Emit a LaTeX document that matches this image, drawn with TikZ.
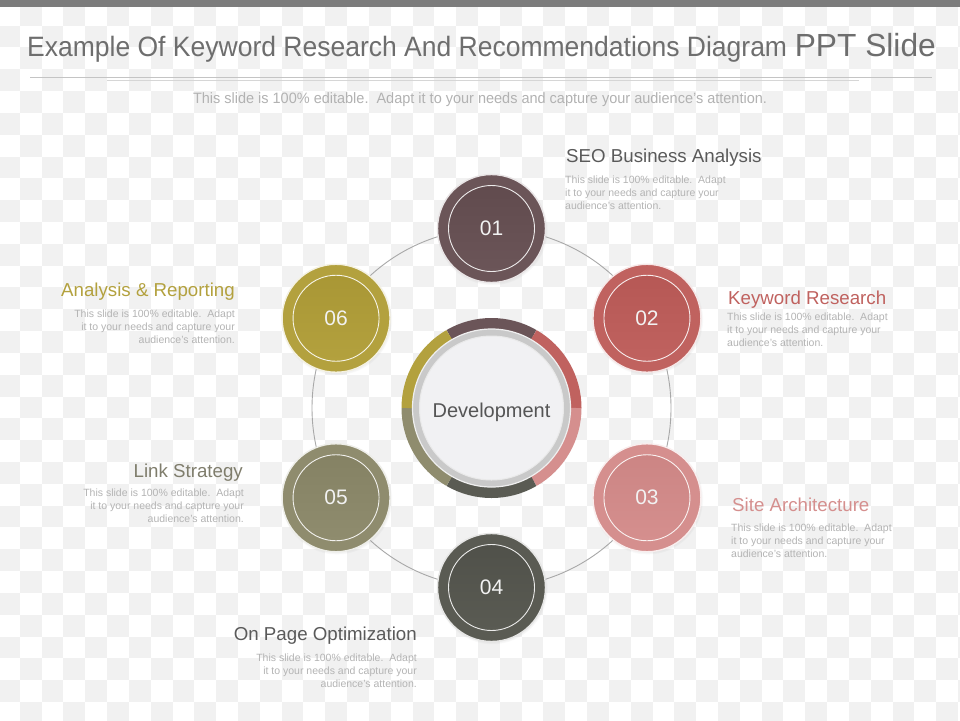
\documentclass[tikz,border=0pt]{standalone}
\usepackage{graphicx}
\usepackage{fontspec}
\setmainfont{Liberation Sans}
\usetikzlibrary{shadows,calc}
\definecolor{chk}{HTML}{F1F1F1}
\definecolor{topbar}{HTML}{7C7C7C}
\definecolor{titlegray}{HTML}{6E6E6E}
\definecolor{subgray}{HTML}{B2B2B2}
\definecolor{bodygray}{HTML}{B4B4B4}
\definecolor{sepline}{HTML}{C4C4C4}
\definecolor{ringline}{HTML}{A8A8A8}
\definecolor{ca}{HTML}{6B5558}\definecolor{cad}{HTML}{614B4E}
\definecolor{cb}{HTML}{C0625F}\definecolor{cbd}{HTML}{B65855}
\definecolor{cc}{HTML}{D58F8E}\definecolor{ccd}{HTML}{CC8584}
\definecolor{cdd}{HTML}{5A5B53}\definecolor{cddd}{HTML}{50514A}
\definecolor{ce}{HTML}{8F8C6E}\definecolor{ced}{HTML}{858264}
\definecolor{cf}{HTML}{B3A13E}\definecolor{cfd}{HTML}{A99735}
\definecolor{seotxt}{HTML}{5A5A5A}
\definecolor{linktxt}{HTML}{7F7D6C}
\definecolor{devfill}{HTML}{F1F1F3}
\definecolor{devring}{HTML}{C9C9C9}
\definecolor{devtext}{HTML}{555555}
\newcommand\bodylines[4]{%
  \node[bodytxt, anchor=base #4] (#1a) at (#2,#3) {This slide is 100\% editable.\ \ Adapt};
  \node[bodytxt, anchor=base #4] (#1b) at (#2,#3+13) {it to your needs and capture your};
  \node[bodytxt, anchor=base #4] (#1c) at (#2,#3+26) {audience's attention.};}
\begin{document}
\begin{tikzpicture}[x=1pt,y=-1pt,
  bodytxt/.style={inner sep=0pt, text=bodygray, font=\fontsize{10.5}{12}\selectfont},
  headtxt/.style={inner sep=0pt, font=\fontsize{18.7}{22}\selectfont},
  outerdisk/.style={circle, inner sep=0pt, minimum size=108pt, fill=#1, draw=white!85!#1, line width=1.4pt,
     circular drop shadow={shadow xshift=0.6pt, shadow yshift=-1.2pt, opacity=0.3, shadow scale=1.03}},
  innerdisk/.style={circle, inner sep=0pt, minimum size=86pt, draw=white!88!#1, line width=0.9pt,
     text=white!95!black, font=\fontsize{21}{24}\selectfont}]
\useasboundingbox (0,0) rectangle (960,720);
\fill[white] (0,0) rectangle (960,720);
\begin{scope}
\clip (0,0) rectangle (960,720);
\foreach \i in {0,...,44}{\foreach \j in {0,...,33}{%
  \pgfmathtruncatemacro\chkpar{mod(\i+\j,2)}%
  \ifnum\chkpar=0 \fill[chk] ({-2+\i*21.818},{-18+\j*21.818}) rectangle ++(21.818,21.818);\fi}}
\end{scope}
\fill[topbar] (0,0) rectangle (960,7);
\draw[sepline, line width=0.8pt] (30,77) -- (932,77);
\draw[sepline!70, line width=0.6pt] (107,80) -- (859,80);
% title
\node[anchor=base west, inner sep=0pt, text=titlegray, font=\fontsize{28}{32}\selectfont] (title) at (27,56)
  {\resizebox{760pt}{\height}{Example Of Keyword Research And Recommendations Diagram}};
\node[anchor=base east, inner sep=0pt, text=titlegray, font=\fontsize{32}{36}\selectfont] (ppt) at (936,56)
  {\resizebox{141pt}{\height}{PPT Slide}};
\node[anchor=base, inner sep=0pt, text=subgray, font=\fontsize{15}{17}\selectfont] (sub) at (480,103)
  {\resizebox{574pt}{\height}{This slide is 100\% editable.\ \ Adapt it to your needs and capture your audience's attention.}};
% ring
\coordinate (C) at (491.5,408);
\draw[ringline, line width=0.9pt] (C) circle[radius=179.5];
% center
\foreach \a/\b/\c in {-120/-60/ca, -60/0/cb, 0/60/cc, 60/120/cdd, 120/180/ce, 180/240/cf}
  \draw[line width=11pt, \c] ($(C)+(\a:84.5)$) arc[start angle=\a, end angle=\b, radius=84.5];
\node[circle, inner sep=0pt, minimum size=158pt, fill=devring, draw=white!70!devring, line width=1.2pt] (ring) at (C) {};
\node[circle, inner sep=0pt, minimum size=144pt, fill=devfill, draw=white!60!devring, line width=1pt] (dev) at (C) {};
\node[inner sep=0pt, text=devtext, font=\fontsize{20}{24}\selectfont, anchor=base] (devlbl) at ($(C)+(0,9.5)$) {Development};
% circles
\foreach \n/\ang/\c/\cd in {1/-90/ca/cad, 2/-30/cb/cbd, 3/30/cc/ccd, 4/90/cdd/cddd, 5/150/ce/ced, 6/210/cf/cfd}{
  \node[outerdisk=\c] (n\n) at ($(C)+(\ang:179.5)$) {};
  \node[innerdisk=\c, top color=\cd, bottom color=\c] (n\n i) at (n\n) {0\n};
}
% labels
\node[headtxt, text=seotxt, anchor=base west] (t1) at (566,162.5) {SEO Business Analysis};
\bodylines{b1}{565}{183.7}{west}
\node[headtxt, text=cb, anchor=base west] (t2) at (728,304.5) {Keyword Research};
\bodylines{b2}{727}{320.7}{west}
\node[headtxt, text=cc, anchor=base west] (t3) at (732,511.5) {Site Architecture};
\bodylines{b3}{731}{531.7}{west}
\node[headtxt, text=seotxt, anchor=base east] (t4) at (417,640.5) {On Page Optimization};
\bodylines{b4}{417}{661.7}{east}
\node[headtxt, text=linktxt, anchor=base east] (t5) at (243,477.5) {Link Strategy};
\bodylines{b5}{244}{496.7}{east}
\node[headtxt, text=cf, anchor=base east] (t6) at (235,296.5) {Analysis \& Reporting};
\bodylines{b6}{235}{317.7}{east}
\end{tikzpicture}
\end{document}
